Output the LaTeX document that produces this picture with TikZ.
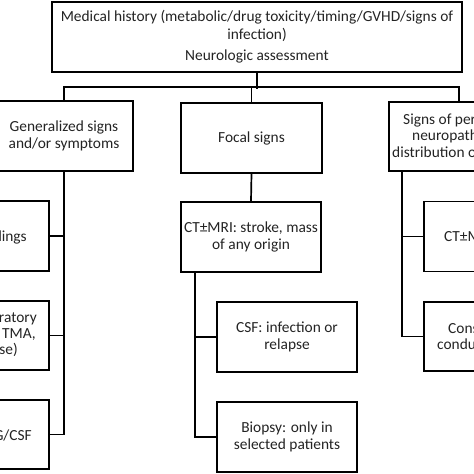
\documentclass[tikz,border=0pt]{standalone}
\usepackage{fontspec}
\setmainfont{Carlito}
\definecolor{txt}{RGB}{35,35,35}
\begin{document}
\begin{tikzpicture}[x=1pt,y=-1pt,
  box/.style={draw=black, line width=1.7pt, inner sep=2pt, align=center, text=txt,
    font=\fontsize{15.4}{17.5}\selectfont},
  tl/.style={inner sep=0pt, text=txt, font=\fontsize{15.4}{17}\selectfont},
  conn/.style={draw=black, line width=1.7pt}]
\useasboundingbox (0,0) rectangle (474,474);
% level 0
\node[box, minimum width=410pt, minimum height=70pt] (top) at (257,37)
  {Medical history (metabolic/drug toxicity/timing/GVHD/signs of\\infection)\\[4pt]Neurologic assessment};
% level 1
\node[box, minimum width=138pt, minimum height=70pt] (gen) at (64,136) {Generalized signs\\and/or symptoms};
\node[box, minimum width=141pt, minimum height=70pt] (focal) at (251.5,138) {Focal signs};
\node[box, minimum width=140pt, minimum height=69pt] (right) at (459,136.5) {};
\node[tl, anchor=west] (righta) at (403,120) {Signs of peripheral};
\node[tl, anchor=west] (rightb) at (412,136) {neuropathy or};
\node[tl, anchor=west] (rightc) at (392,152) {distribution of deficits};
% left children
\node[box, minimum width=140pt, minimum height=70pt] (la) at (-21,236) {};
\node[tl, anchor=east] (laa) at (27,237) {CT/MRI findings};
\node[box, minimum width=140pt, minimum height=69pt] (lb) at (-21,335.5) {};
\node[tl, anchor=east] (lba) at (37,318) {Laboratory};
\node[tl, anchor=east] (lbb) at (36,334) {(infection, TMA,};
\node[tl, anchor=east] (lbc) at (18,350) {relapse)};
\node[box, minimum width=140pt, minimum height=69pt] (lc) at (-21,434.5) {};
\node[tl, anchor=east] (lca) at (32,435) {MRI/EEG/CSF};
% focal children
\node[box, minimum width=140pt, minimum height=70pt] (ct) at (251,237) {CT±MRI: stroke, mass\\of any origin};
\node[box, minimum width=140pt, minimum height=70pt] (csf) at (287,337) {CSF: infection or\\relapse};
\node[box, minimum width=140pt, minimum height=70pt] (bio) at (287,437) {Biopsy: only in\\selected patients};
% right children
\node[box, minimum width=140pt, minimum height=70pt] (ra) at (494,236.5) {};
\node[tl, anchor=west] (raa) at (444,237) {CT±MRI: spine};
\node[box, minimum width=140pt, minimum height=69pt] (rb) at (494,336.5) {};
\node[tl, anchor=west] (rba) at (448,328) {Consider nerve};
\node[tl, anchor=west] (rbb) at (437,344) {conduction studies};
% connectors
\draw[conn] (top.south) -- ++(0,16);
\draw[conn] (gen.north) -- ++(0,-13) -| (right.north);
\draw[conn] (focal.north) -- ++(0,-15);
\draw[conn] (gen.south) |- (lc.east);
\draw[conn] (la.east) -- (la.east -| gen.south);
\draw[conn] (lb.east) -- (lb.east -| gen.south);
\draw[conn] (focal.south) -- (ct.north);
\coordinate (ft) at ([xshift=15pt]ct.south west);
\draw[conn] (ft) |- (bio.west);
\draw[conn] (csf.west) -- (csf.west -| ft);
\coordinate (rt) at ([xshift=14pt]right.south west);
\draw[conn] (rt) |- (rb.west);
\draw[conn] (ra.west) -- (ra.west -| rt);
\end{tikzpicture}
\end{document}
